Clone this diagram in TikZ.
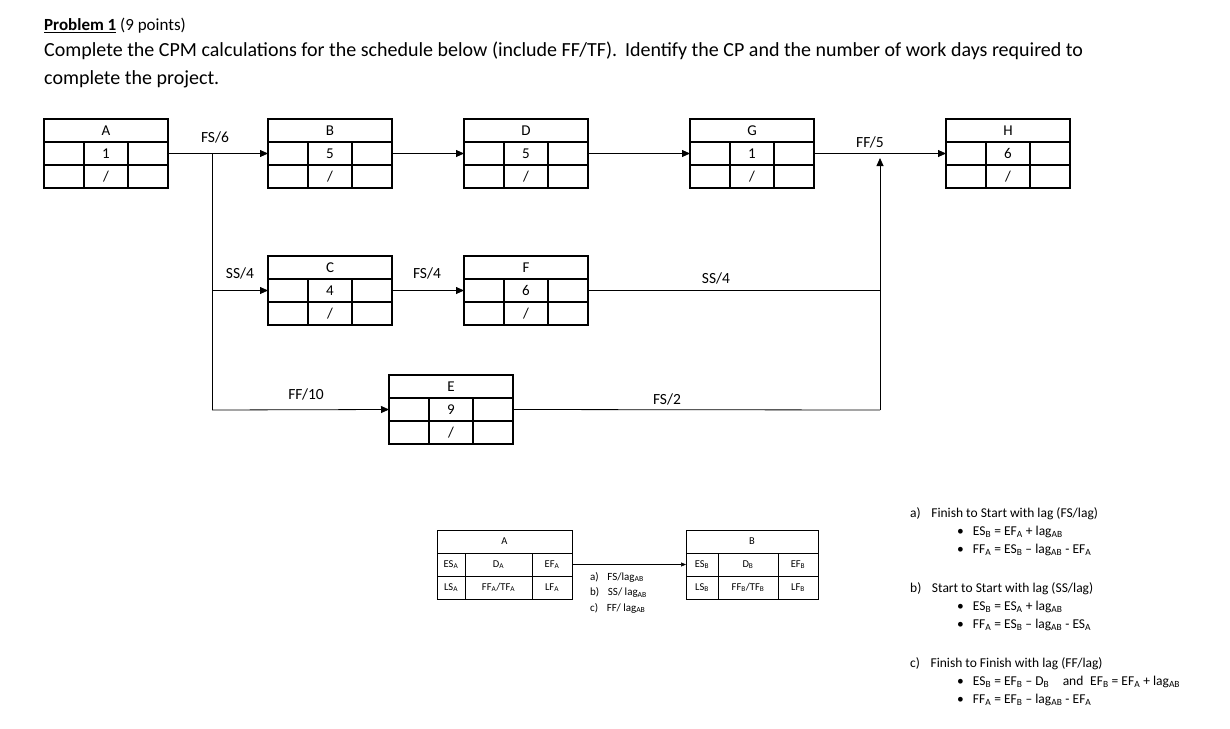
\documentclass[tikz,border=0pt]{standalone}
\usepackage{fontspec}
\setmainfont{Carlito}
\usetikzlibrary{arrows.meta}

\newcommand\toprow[5]{% name, x, y, width, text
  \node[cell, minimum width=#4, anchor=north west] (#1) at (#2,#3) {#5};}
\newcommand\boxrow[9]{% name, x, y, w1, w2, w3, left, mid, right
  \node[cell, minimum width=#4, anchor=north west] (#1-l) at (#2,#3) {#7};
  \node[cell, minimum width=#5, anchor=north west] (#1-m) at (#1-l.north east) {#8};
  \node[cell, minimum width=#6, anchor=north west] (#1-r) at (#1-m.north east) {#9};}
\newcommand\act[5]{% name, x, y, label, duration
  \toprow{#1-t}{#2}{#3}{124}{#4}
  \boxrow{#1}{#2}{#3+23}{40}{44}{40}{}{#5}{}
  \boxrow{#1-b}{#2}{#3+46}{40}{44}{40}{}{/}{}}
\newcommand\sub[1]{\textsubscript{#1}}
\newcommand\bul{•\hspace{9pt}}

\begin{document}
\begin{tikzpicture}[x=1pt,y=-1pt,
  cell/.style={draw, line width=1.1pt, minimum height=23, inner sep=0, outer sep=0, font=\fontsize{15}{15}\selectfont},
  lcell/.style={cell, line width=0.8pt, font=\fontsize{10.5}{10.5}\selectfont},
  link/.style={line width=0.8pt},
  arr/.style={link, -{Triangle[length=8pt,width=7pt]}},
  lab/.style={font=\fontsize{15.5}{15.5}\selectfont},
  txt/.style={font=\fontsize{20}{20}\selectfont, anchor=west, inner sep=0},
  frm/.style={font=\fontsize{13.5}{13.5}\selectfont, anchor=west, inner sep=0}]
\useasboundingbox (0,0) rectangle (1230,728);

% heading
\node[txt, font=\fontsize{17}{17}\selectfont] (h1) at (44,26) {\textbf{\underline{Problem 1}} (9 points)};
\node[txt] (h2) at (44,51) {Complete the CPM calculations for the schedule below (include FF/TF).\, Identify the CP and the number of work days required to};
\node[txt] (h3) at (44,79) {complete the project.};

% activities
\act{A}{44}{119}{A}{1}
\act{B}{268}{119}{B}{5}
\act{D}{464}{119}{D}{5}
\act{G}{690}{119}{G}{1}
\act{H}{946}{119}{H}{6}
\act{C}{268}{256}{C}{4}
\act{F}{464}{256}{F}{6}
\act{E}{389}{375}{E}{9}

% links
\coordinate (s) at (212,154);
\coordinate (sb) at (212,410);
\coordinate (j) at (880,410);
\coordinate (jt) at (880,154);
\draw[arr] (A-r.east) -- (B-l.west);
\draw[arr] (B-r.east) -- (D-l.west);
\draw[arr] (D-r.east) -- (G-l.west);
\draw[arr] (G-r.east) -- (H-l.west);
\draw[link] (s) -- (sb);
\draw[arr] (s |- C-l.west) -- (C-l.west);
\draw[arr] (sb) -- (E-l.west);
\draw[arr] (C-r.east) -- (F-l.west);
\draw[link] (F-r.east) -- (F-r.east -| j);
\draw[link] (E-r.east) -- (j);
\draw[arr] (j) -- ([yshift=-4pt]jt);

\node[lab] (l1) at (215,137) {FS/6};
\node[lab] (l2) at (870,142) {FF/5};
\node[lab] (l3) at (240,273) {SS/4};
\node[lab] (l4) at (427,273) {FS/4};
\node[lab] (l5) at (716,278) {SS/4};
\node[lab] (l6) at (306,394) {FF/10};
\node[lab] (l7) at (667,399) {FS/2};

% legend
\node[lcell, minimum width=135, anchor=north west] (LA-t) at (437,530) {A};
\node[lcell, minimum width=28, anchor=north west] (LA-l) at (437,553) {ES\sub{A}};
\node[lcell, minimum width=67, anchor=north west] (LA-m) at (LA-l.north east) {D\sub{A}};
\node[lcell, minimum width=40, anchor=north west] (LA-r) at (LA-m.north east) {EF\sub{A}};
\node[lcell, minimum width=28, anchor=north west] (LA-bl) at (437,576) {LS\sub{A}};
\node[lcell, minimum width=67, anchor=north west] (LA-bm) at (LA-bl.north east) {FF\sub{A}/TF\sub{A}};
\node[lcell, minimum width=40, anchor=north west] (LA-br) at (LA-bm.north east) {LF\sub{A}};
\node[lcell, minimum width=132, anchor=north west] (LB-t) at (686,530) {B};
\node[lcell, minimum width=32, anchor=north west] (LB-l) at (686,553) {ES\sub{B}};
\node[lcell, minimum width=60, anchor=north west] (LB-m) at (LB-l.north east) {D\sub{B}};
\node[lcell, minimum width=40, anchor=north west] (LB-r) at (LB-m.north east) {EF\sub{B}};
\node[lcell, minimum width=32, anchor=north west] (LB-bl) at (686,576) {LS\sub{B}};
\node[lcell, minimum width=60, anchor=north west] (LB-bm) at (LB-bl.north east) {FF\sub{B}/TF\sub{B}};
\node[lcell, minimum width=40, anchor=north west] (LB-br) at (LB-bm.north east) {LF\sub{B}};
\draw[link, line width=0.5pt, -{Triangle[length=5pt,width=4pt]}] (LA-r.east) -- (LB-l.west);
\node[anchor=north west, align=left, inner sep=0, font=\fontsize{11}{15.5}\selectfont] (lg) at (590,572)
  {a)\;\; FS/lag\sub{AB}\\ b)\;\; SS/ lag\sub{AB}\\ c)\;\; FF/ lag\sub{AB}};

% formulas
\node[frm] (fa) at (910,514) {a)\;\; Finish to Start with lag (FS/lag)};
\node[frm] (fa1) at (957,532) {\bul ES\sub{B} = EF\sub{A} + lag\sub{AB}};
\node[frm] (fa2) at (957,550) {\bul FF\sub{A} = ES\sub{B} – lag\sub{AB} - EF\sub{A}};
\node[frm] (fb) at (910,589) {b)\;\; Start to Start with lag (SS/lag)};
\node[frm] (fb1) at (957,607) {\bul ES\sub{B} = ES\sub{A} + lag\sub{AB}};
\node[frm] (fb2) at (957,625) {\bul FF\sub{A} = ES\sub{B} – lag\sub{AB} - ES\sub{A}};
\node[frm] (fc) at (910,664) {c)\;\; Finish to Finish with lag (FF/lag)};
\node[frm] (fc1) at (957,682) {\bul ES\sub{B} = EF\sub{B} – D\sub{B}\quad and\; EF\sub{B} = EF\sub{A} + lag\sub{AB}};
\node[frm] (fc2) at (957,700) {\bul FF\sub{A} = EF\sub{B} – lag\sub{AB} - EF\sub{A}};
\end{tikzpicture}
\end{document}
